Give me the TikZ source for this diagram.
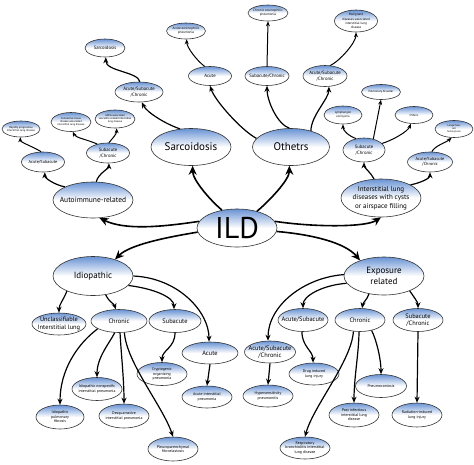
\documentclass[tikz,border=0pt]{standalone}
\usepackage{fontspec}
\setmainfont{PT Sans}
\usetikzlibrary{shapes.geometric,arrows.meta}
\definecolor{ildblue}{RGB}{105,147,212}
\newcommand\fsz[2]{\fontsize{#1}{#2}\selectfont}
\begin{document}
\begin{tikzpicture}[x=1pt,y=-1pt,
  bub/.style={ellipse,draw=black!80,line width=0.6pt,inner xsep=-15pt,inner ysep=-4pt,align=center,top color=ildblue,bottom color=white,middle color=white},
  cat/.style={bub,minimum width=80pt,minimum height=38pt},
  sub/.style={bub,minimum width=44pt,minimum height=20pt,font=\fsz{4.7}{5.4}},
  twig/.style={bub,minimum width=39pt,minimum height=17pt,font=\fsz{3.4}{3.9}},
  grp/.style={bub,minimum width=51pt,minimum height=23pt,font=\fsz{6.4}{7.2}},
  leaf/.style={bub,minimum width=50pt,minimum height=23pt,font=\fsz{3.9}{4.5}},
  big/.style={line width=1.6pt,-{Stealth[length=9pt,width=8pt]}},
  mid/.style={line width=1.2pt,-{Stealth[length=6pt,width=5pt]}},
  lnk/.style={line width=1pt,-{Stealth[length=5pt,width=4pt]}}]
\useasboundingbox (0,0) rectangle (474,464);
% main branches
\node[cat,font=\fsz{30}{30}] (ild) at (237,228) {ILD};
\node[cat,minimum height=37pt,font=\fsz{11}{12}] (sarc) at (191,147) {Sarcoidosis};
\node[cat,minimum width=77pt,minimum height=37pt,font=\fsz{11}{12}] (oth) at (291,147) {Othetrs};
\node[cat,minimum height=36pt,font=\fsz{7.5}{8.5}] (auto) at (93,200) {Autoimmune-related};
\node[cat,font=\fsz{7}{8.6}] (cyst) at (381,198) {Interstitial lung\\diseases with cysts\\or airspace filling};
\node[cat,minimum height=39pt,font=\fsz{9}{10}] (idio) at (93,276) {Idiopathic};
\node[cat,font=\fsz{9}{11}] (expo) at (384,276) {Exposure\\related};
% upper part
\node[sub,minimum width=40pt,minimum height=18pt] (sarcsm) at (105,48) {Sarcoidosis};
\node[sub,minimum width=48pt] (ascL) at (139,92) {Acute/Subacute\\/Chronic};
\node[twig,minimum height=16pt] (aep) at (186,31) {Acute eosinophilic\\pneumonia};
\node[sub,minimum width=43pt,minimum height=19pt] (acuteU) at (210,76) {Acute};
\node[twig,minimum width=40pt,minimum height=19pt,font=\fsz{2.7}{3.2}] (ctd) at (71,122) {Connective tissue\\disease-associated\\interstitial lung disease};
\node[twig,minimum width=40pt,minimum height=18pt,font=\fsz{2.7}{3.2}] (anca) at (115,119) {ANCA-associated\\vasculitis-related interstitial\\lung disease};
\node[twig,minimum width=38pt,minimum height=16pt,font=\fsz{2.8}{3.3}] (rp) at (21,129) {Rapidly progressive\\interstitial lung disease};
\node[sub,minimum width=43pt] (scL) at (108,153) {Subacute\\/Chronic};
\node[sub,minimum width=43pt,font=\fsz{4.3}{5}] (asL) at (43,162) {Acute/Subacute};
\node[twig,minimum width=40pt,minimum height=16pt] (cep) at (268,13) {Chronic eosinophilic\\pneumonia};
\node[sub,minimum height=19pt] (scT) at (267,76) {Subacute/Chronic};
\node[twig,minimum width=43pt,minimum height=22pt,font=\fsz{3.3}{4.2}] (mal) at (356,21) {Malignant\\diseases-associated\\interstitial lung\\disease};
\node[sub,minimum height=21pt] (ascT) at (325,76) {Acute/Subacute\\/Chronic};
\node[twig,minimum height=15pt,font=\fsz{3}{3.5}] (pap) at (381,92) {Pulmonary Alveolar};
\node[twig,minimum width=38pt,minimum height=18pt,font=\fsz{3}{3.6}] (lam) at (343,115) {Lymphangiol\\eiomyoma};
\node[twig,minimum width=38pt,font=\fsz{3}{3.5}] (others) at (414,115) {Others};
\node[sub,minimum width=42pt,minimum height=24pt] (scR) at (364,150) {Subacute\\/Chronic};
\node[twig,minimum width=38pt,font=\fsz{2.6}{3.1}] (lch) at (454,129) {Langerhans\\cell\\histiocytosis};
\node[sub,minimum width=45pt,font=\fsz{4.3}{5}] (ascR) at (430,162) {Acute/Subacute\\/Chronic};
% lower left
\node[grp,minimum width=54pt,minimum height=22pt] (uncl) at (59,324) {Unclassifiable\\Interstitial lung};
\node[grp,minimum width=56pt] (chrL) at (119,321) {Chronic};
\node[grp,minimum width=52pt] (subL) at (175,321) {Subacute};
\node[grp,minimum width=56pt,minimum height=22pt] (acuL) at (210,353) {Acute};
\node[leaf] (insip) at (97,389) {Idiopathic nonspecific\\interstitial pneumonia};
\node[leaf,minimum width=48pt,minimum height=24pt] (ipf) at (60,417) {Idiopathic\\pulmonary\\fibrosis};
\node[leaf,minimum height=24pt] (dip) at (124,416) {Desquamative\\interstitial pneumonia};
\node[leaf] (cop) at (162,374) {Cryptogenic\\organizing\\pneumonia};
\node[leaf,minimum height=22pt] (aip) at (207,397) {Acute interstitial\\pneumonia};
\node[leaf,minimum height=24pt] (ppfe) at (173,449) {Pleuroparenchymal\\fibroelastosis};
% lower right
\node[grp,minimum width=50pt] (asR) at (303,320) {Acute/Subacute};
\node[grp,minimum width=50pt] (chrR) at (360,320) {Chronic};
\node[grp,minimum width=50pt] (scB) at (418,320) {Subacute\\/Chronic};
\node[grp,minimum height=22pt] (ascB) at (270,352) {Acute/Subacute\\/Chronic};
\node[leaf,minimum height=22pt] (dili) at (314,374) {Drug induced\\lung injury};
\node[leaf,minimum height=22pt] (hp) at (268,396) {Hypersensitivity\\pneumonitis};
\node[leaf,minimum width=51pt] (pneu) at (381,386) {Pneumoconiosis};
\node[leaf,minimum height=24pt] (pild) at (354,415) {Post infectious\\interstitial lung\\disease};
\node[leaf,minimum height=24pt] (rili) at (417,415) {Radiation-induced\\lung injury};
\node[leaf,minimum height=22pt] (rbild) at (305,448) {Respiratory\\bronchiolitis interstitial\\lung disease};
% connectors
\draw[big] (ild.130) .. controls +(-12,-10) and +(0,14) .. (sarc.275);
\draw[big] (ild.40) .. controls +(12,-10) and +(0,14) .. (oth.265);
\draw[big] (ild.170) .. controls +(-40,6) and +(25,12) .. (auto.290);
\draw[big] (ild.186) .. controls +(-30,5) and +(15,-15) .. (idio.37);
\draw[big] (ild.10) .. controls +(40,6) and +(-15,10) .. (cyst.south);
\draw[big] (ild.355) .. controls +(35,3) and +(-15,-18) .. (expo.147);
\draw[mid] (sarc.121) .. controls +(-15,-5) and +(5,10) .. (ascL.285);
\draw[mid] (ascL.85) .. controls +(-2,-10) and +(0,14) .. (sarcsm.275);
\draw[mid] (oth.166) .. controls +(-15,-8) and +(5,15) .. (acuteU.270);
\draw[lnk] (acuteU.119) .. controls +(-8,-6) and +(0,8) .. (aep.275);
\draw[mid] (oth.95) .. controls +(-12,-4) and +(0,15) .. (scT.south);
\draw[mid] (oth.39) .. controls +(0,-15) and +(0,12) .. (ascT.290);
\draw[lnk] (scT.north) -- (cep.south);
\draw[lnk] (ascT.63) .. controls +(10,-5) and +(0,10) .. (mal.south);
\draw[mid] (cyst.110) .. controls +(-3,-6) and +(0,5) .. (scR.south);
\draw[mid] (cyst.24) .. controls +(10,-2) and +(0,6) .. (ascR.south);
\draw[lnk] (scR.125) .. controls +(-8,-3) and +(0,6) .. (lam.south);
\draw[lnk] (scR.50) -- (pap.south);
\draw[lnk] (scR.20) .. controls +(10,-3) and +(-3,8) .. (others.250);
\draw[lnk] (ascR.80) .. controls +(3,-6) and +(-6,5) .. (lch.255);
\draw[mid] (auto.155) .. controls +(-10,-2) and +(0,6) .. (asL.280);
\draw[mid] (auto.80) .. controls +(2,-8) and +(0,5) .. (scL.275);
\draw[lnk] (asL.100) .. controls +(-8,-5) and +(0,5) .. (rp.265);
\draw[lnk] (scL.140) .. controls +(-12,-5) and +(3,6) .. (ctd.280);
\draw[lnk] (scL.85) .. controls +(4,-5) and +(0,6) .. (anca.280);
\draw[mid] (idio.210) .. controls +(-3,8) and +(0,-8) .. (uncl.north);
\draw[mid] (idio.304) .. controls +(4,8) and +(-2,-6) .. (chrL.105);
\draw[mid] (idio.345) .. controls +(25,3) and +(0,-12) .. (subL.95);
\draw[mid] (idio.0) .. controls +(45,2) and +(0,-30) .. (acuL.95);
\draw[mid] (chrL.200) .. controls +(-20,15) and +(0,-35) .. (ipf.north);
\draw[mid] (chrL.250) .. controls +(-5,10) and +(0,-20) .. (insip.north);
\draw[mid] (chrL.275) .. controls +(1,20) and +(0,-25) .. (dip.north);
\draw[mid] (chrL.295) .. controls +(2,30) and +(-10,-30) .. (ppfe.north);
\draw[mid] (subL.south) .. controls +(0,15) and +(0,-12) .. (cop.north);
\draw[mid] (acuL.south) -- (aip.north);
\draw[mid] (expo.178) .. controls +(-40,3) and +(0,-35) .. (ascB.100);
\draw[mid] (expo.191) .. controls +(-25,2) and +(0,-12) .. (asR.north);
\draw[mid] (expo.230) .. controls +(-2,6) and +(1,-6) .. (chrR.80);
\draw[mid] (expo.330) .. controls +(4,6) and +(0,-6) .. (scB.north);
\draw[mid] (asR.265) .. controls +(0,15) and +(0,-12) .. (dili.95);
\draw[mid] (ascB.south) -- (hp.north);
\draw[mid] (chrR.318) .. controls +(5,10) and +(0,-15) .. (pneu.north);
\draw[mid] (chrR.265) .. controls +(0,20) and +(0,-25) .. (pild.north);
\draw[mid] (chrR.240) .. controls +(-2,30) and +(8,-30) .. (rbild.north);
\draw[mid] (scB.south) -- (rili.north);
\end{tikzpicture}
\end{document}
